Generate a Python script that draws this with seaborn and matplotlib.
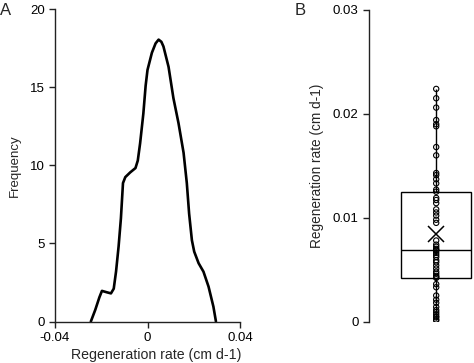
import numpy as np
import pandas as pd
import matplotlib
matplotlib.use("Agg")
import matplotlib.pyplot as plt
import seaborn as sns

# ---- Data ----
# Panel A: frequency curve of regeneration rate
curve_x = [-0.0245, -0.0226, -0.0208, -0.0197, -0.0176, -0.0158, -0.0146, -0.0136,
           -0.0125, -0.0115, -0.0106, -0.0096, -0.0075, -0.0052, -0.0042, -0.0032,
           -0.0018, -0.0008, 0.0000, 0.0019, 0.0035, 0.0048, 0.0060, 0.0069, 0.0091, 0.0112,
           0.0134, 0.0156, 0.0170, 0.0180, 0.0192, 0.0202, 0.0221, 0.0242,
           0.0264, 0.0285, 0.0296]
curve_y = [0.0, 0.74, 1.55, 1.96, 1.87, 1.80, 2.1, 3.2,
           4.8, 6.6, 8.86, 9.24, 9.54, 9.82, 10.3, 11.4,
           13.3, 15.1, 16.1, 17.2, 17.8, 18.04, 17.9, 17.6, 16.3, 14.3,
           12.7, 10.8, 8.86, 6.9, 5.2, 4.47, 3.73, 3.19,
           2.23, 0.95, 0.0]
xticks_a = [-0.04, 0, 0.04]
xticklabels_a = ["-0.04", "0", "0.04"]
yticks_a = [0, 5, 10, 15, 20]

# Panel B: individual regeneration rates
rates = [0.0224, 0.0215, 0.0206, 0.0194, 0.0190, 0.0188, 0.0168, 0.0160, 0.0143,
         0.0141, 0.0137, 0.0133, 0.0127,
         0.0125, 0.0119, 0.0117, 0.0114, 0.0108, 0.0105, 0.0102, 0.0098, 0.0095,
         0.0078, 0.0074, 0.0072, 0.0070,
         0.0069,
         0.0068, 0.0066, 0.0064, 0.0062, 0.0059, 0.0057, 0.0054, 0.0051, 0.0048,
         0.0046, 0.0044, 0.0043, 0.0042,
         0.0036, 0.0033, 0.0025, 0.0021, 0.0018, 0.0014, 0.0011, 0.0009, 0.0007,
         0.0005, 0.0004, 0.0002, 0.0001]
yticks_b = [0, 0.01, 0.02, 0.03]
yticklabels_b = ["0", "0.01", "0.02", "0.03"]

xlabel = "Regeneration rate (cm d-1)"
ylabel_a = "Frequency"
ylabel_b = "Regeneration rate (cm d-1)"

# ---- Style ----
sns.set_style("ticks")
plt.rcParams["font.family"] = ["Liberation Sans", "DejaVu Sans"]
plt.rcParams["axes.edgecolor"] = "#222222"
plt.rcParams["xtick.color"] = "#222222"
plt.rcParams["ytick.color"] = "#222222"
plt.rcParams["xtick.labelcolor"] = "black"
plt.rcParams["ytick.labelcolor"] = "black"

W, H = 474, 363
fig = plt.figure(figsize=(W / 100, H / 100), dpi=100)

def rect(l, r, t, b):
    return [l / W, 1 - b / H, (r - l) / W, (b - t) / H]

# ---- Panel A ----
axA = fig.add_axes(rect(55, 240, 9, 321.5))
dfA = pd.DataFrame({"x": curve_x, "y": curve_y})
sns.lineplot(data=dfA, x="x", y="y", sort=False, color="black", linewidth=1.9, ax=axA)
axA.set_xlim(-0.04, 0.04)
axA.set_ylim(0, 20)
axA.set_xticks(xticks_a)
axA.set_xticklabels(xticklabels_a)
axA.set_yticks(yticks_a)
axA.set_xlabel(xlabel, fontsize=10.2, labelpad=3)
axA.xaxis.label.set_x(0.545)
axA.set_ylabel(ylabel_a, fontsize=9.5, labelpad=6)
axA.tick_params(labelsize=9.5, length=4, width=1)
sns.despine(ax=axA)
for s in ["left", "bottom"]:
    axA.spines[s].set_linewidth(1)

# ---- Panel B ----
axB = fig.add_axes(rect(369, 474, 10, 321.5))
sns.boxplot(y=rates, width=0.667, whis=(0, 100), showcaps=False, showfliers=False,
            showmeans=True,
            meanprops=dict(marker="x", markeredgecolor="black", markersize=12,
                           markeredgewidth=1.1),
            boxprops=dict(facecolor="white", edgecolor="black", linewidth=1),
            medianprops=dict(color="black", linewidth=1),
            whiskerprops=dict(color="black", linewidth=1),
            ax=axB)
n0 = len(axB.collections)
sns.stripplot(y=rates, jitter=False, size=3.8, color="black", linewidth=0.8,
              edgecolor="black", ax=axB, zorder=5)
for coll in axB.collections[n0:]:
    coll.set_facecolor("none")
    coll.set_edgecolor("black")
axB.set_xlim(-0.64, 0.36)
axB.set_ylim(0, 0.03)
axB.set_yticks(yticks_b)
axB.set_yticklabels(yticklabels_b)
axB.set_xticks([])
axB.set_ylabel(ylabel_b, fontsize=9.8, labelpad=6)
axB.tick_params(labelsize=9.5, length=4, width=1)
sns.despine(ax=axB, bottom=True)
axB.spines["left"].set_linewidth(1)

# panel letters
fig.text(0 / W, 1 - 3 / H, "A", fontsize=12, va="top", ha="left")
fig.text(295 / W, 1 - 3 / H, "B", fontsize=12, va="top", ha="left")

fig.savefig("out.png", dpi=100)
